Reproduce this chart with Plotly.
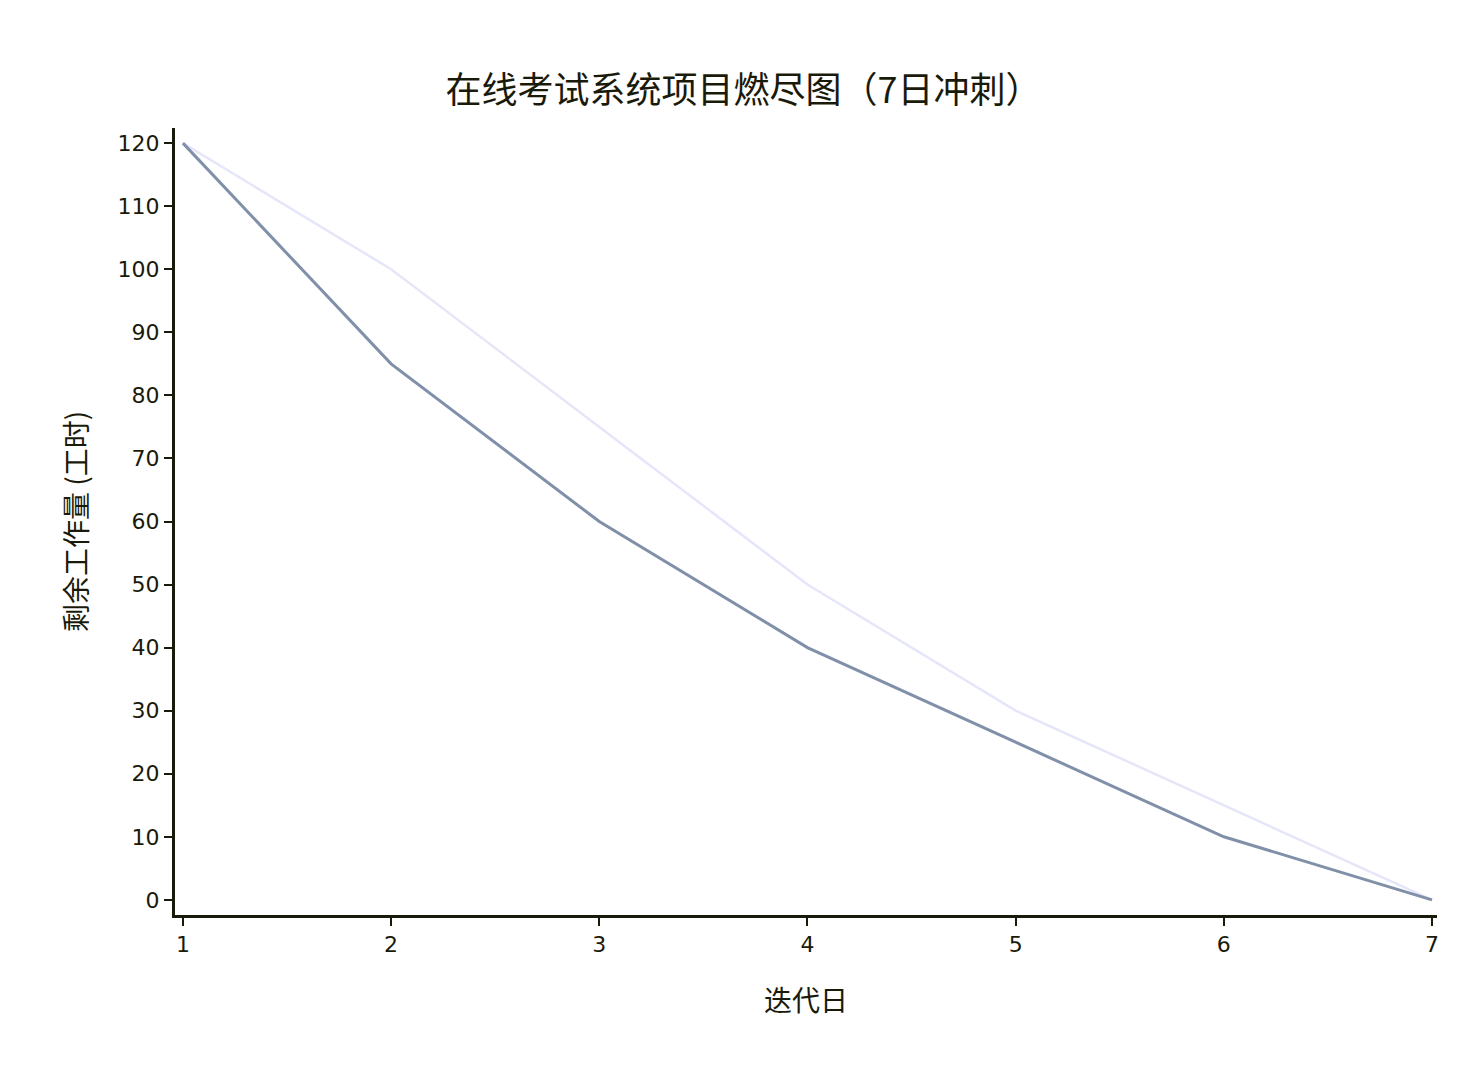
import plotly.graph_objects as go

days = [1, 2, 3, 4, 5, 6, 7]
ideal_remaining = [120, 100, 75, 50, 30, 15, 0]
actual_remaining = [120, 85, 60, 40, 25, 10, 0]

fig = go.Figure()

# 理想燃尽线（很淡）
fig.add_trace(go.Scatter(
    x=days, y=ideal_remaining, mode="lines", name="理想",
    line=dict(color="#e6e6fa", width=2.5)
))

# 实际燃尽线
fig.add_trace(go.Scatter(
    x=days, y=actual_remaining, mode="lines", name="实际",
    line=dict(color="#8090a8", width=3)
))

axis_common = dict(
    showline=True, linecolor="#1a1a0a", linewidth=3,
    ticks="outside", tickcolor="#1a1a0a", tickwidth=2, ticklen=8,
    showgrid=False, zeroline=False,
    tickfont=dict(size=22, color="#1a1a0a", family="DejaVu Sans"),
)

fig.update_layout(
    width=1480, height=1080,
    paper_bgcolor="white", plot_bgcolor="white",
    font=dict(family="Noto Sans CJK SC", color="#1a1a0a"),
    showlegend=False,
    margin=dict(l=167, r=51, t=120, b=173),
    title=dict(text="在线考试系统项目燃尽图（7日冲刺）", x=0.497, y=0.935,
               xanchor="center", font=dict(size=36)),
    xaxis=dict(range=[0.962, 7.024], tickvals=days,
               title=dict(text="迭代日", font=dict(size=28), standoff=35),
               **axis_common),
    yaxis=dict(range=[-2.4, 122.4], dtick=10,
               title=dict(text="剩余工作量 (工时)", font=dict(size=28), standoff=22),
               **axis_common),
)

fig.write_html("out.html")
